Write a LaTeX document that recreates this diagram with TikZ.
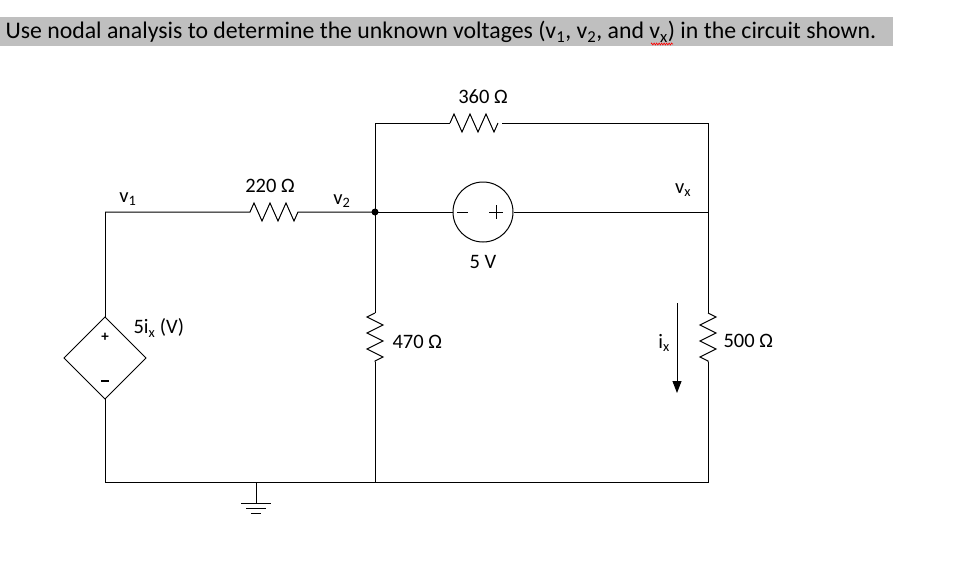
\documentclass[tikz,border=0pt]{standalone}
\usepackage{fontspec}
\setmainfont{Carlito}
\usetikzlibrary{arrows.meta,decorations.pathmorphing}
\begin{document}
\begin{tikzpicture}[x=1pt,y=-1pt,line width=1pt,
  lbl/.style={font=\fontsize{20.5}{24}\selectfont,inner sep=0pt}]
\useasboundingbox (0,0) rectangle (959,573);
\fill[black!25] (0,17) rectangle (893,46);
\node[anchor=west,font=\fontsize{23.8}{28}\selectfont,inner sep=0pt] (title) at (5,32) {Use nodal analysis to determine the unknown voltages (v\textsubscript{1}, v\textsubscript{2}, and v\textsubscript{x}) in the circuit shown.};
\draw[red,line width=0.6pt,decorate,decoration={zigzag,amplitude=1pt,segment length=2.5pt}] (651,44) -- (673,44);
% coordinates
\coordinate (tl) at (105,212); \coordinate (bl) at (105,482);
\coordinate (n2) at (375,212); \coordinate (t2) at (375,123);
\coordinate (b2) at (375,482); \coordinate (tr) at (708,123);
\coordinate (nx) at (708,212); \coordinate (br) at (708,482);
\node[draw,shape=rectangle,rotate=45,minimum width=58pt,minimum height=58pt,inner sep=0pt,line width=1pt] (dep) at (105,358) {};
\node[font=\fontsize{15}{16}\selectfont\bfseries,inner sep=0pt] (pl) at (105,337) {+};
\node[inner sep=0pt] (mi) at (105,381) {\rule{8pt}{1.5pt}};
\draw (tl) -- (105,317);
\draw (105,399) -- (bl) -- (br) -- (tr) -- (t2) -- (b2);
% 220
\draw (tl) -- (250,212) -- ++(4,-9) -- ++(8,18) -- ++(8,-18) -- ++(8,18) -- ++(8,-18) -- ++(8,18) -- ++(4,-9) -- (n2);
% 360 overdraw
\fill[white] (450,118) rectangle (502,128);
\draw (450,123) -- ++(4,-9) -- ++(8,18) -- ++(8,-18) -- ++(8,18) -- ++(8,-18) -- ++(8,18) -- ++(4,-9);
% 470
\fill[white] (370,313) rectangle (380,362);
\draw (375,313) -- ++(-8,4) -- ++(16,8) -- ++(-16,8) -- ++(16,8) -- ++(-16,8) -- ++(16,8) -- ++(-8,4) -- ++(0,1);
% 500
\fill[white] (703,313) rectangle (713,362);
\draw (708,313) -- ++(8,4) -- ++(-16,8) -- ++(16,8) -- ++(-16,8) -- ++(16,8) -- ++(-16,8) -- ++(8,4) -- ++(0,1);
% source
\node[draw,circle,minimum size=60pt,inner sep=0pt,line width=1pt] (vs) at (483,212) {};
\draw (n2) -- (vs.west); \draw (vs.east) -- (nx);
\draw (457,212) -- (468,212);
\draw (489,212) -- (503,212) (496,205) -- (496,219);
\fill (n2) circle (3.5pt);
% ground
\draw (256,482) -- (256,503);
\draw (241,503) -- (271,503) (246,508) -- (266,508) (251,513) -- (261,513);
% ix arrow
\draw[-{Triangle[length=12pt,width=9pt]}] (677,303) -- (677,393);
% labels
\node[lbl] (l1) at (128,199) {v\textsubscript{1}};
\node[lbl] (l220) at (270,186) {220 Ω};
\node[lbl] (l2) at (342,201) {v\textsubscript{2}};
\node[lbl] (l360) at (483,97) {360 Ω};
\node[lbl] (l5) at (483,262) {5 V};
\node[lbl] (lx) at (683,190) {v\textsubscript{x}};
\node[lbl,anchor=west] (ldep) at (133,328) {5i\textsubscript{x} (V)};
\node[lbl,anchor=west] (l470) at (392,342) {470 Ω};
\node[lbl] (lix) at (664,343) {i\textsubscript{x}};
\node[lbl,anchor=west] (l500) at (723,341) {500 Ω};
\end{tikzpicture}
\end{document}
